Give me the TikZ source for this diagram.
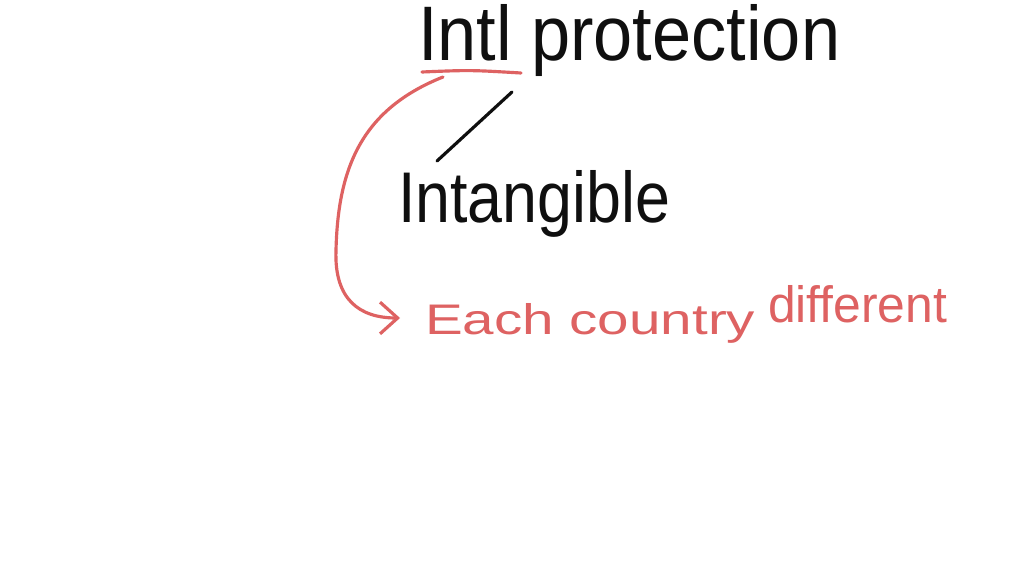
\documentclass[tikz,border=0pt]{standalone}
\usepackage{fontspec}
\setmainfont{Liberation Sans}
\usetikzlibrary{arrows.meta}
\definecolor{pen}{RGB}{15,15,15}
\definecolor{redpen}{RGB}{222,98,98}
\tikzset{
  txt/.style={anchor=base west,inner sep=0pt,outer sep=0pt},
  stroke/.style={line width=0.9pt,line cap=round,line join=round},
}
\begin{document}
\begin{tikzpicture}[x=0.01cm,y=-0.01cm]
\fill[white] (0,0) rectangle (1024,576);
\useasboundingbox (0,0) rectangle (1024,576);
% texts
\node[txt,text=pen] (title) at (418,61) {\resizebox{4.22cm}{0.56cm}{Intl protection}};
\node[txt,text=pen] (intang) at (398,222) {\resizebox{2.72cm}{0.52cm}{Intangible}};
\node[txt,text=redpen] (each) at (425,335) {\resizebox{3.3cm}{0.31cm}{Each country}};
\node[txt,text=redpen] (diff) at (768,322) {\resizebox{1.79cm}{0.37cm}{different}};
% connector points
\coordinate (ul1) at (422,72);
\coordinate (ul2) at (521,73);
\coordinate (b1) at (512,92);
\coordinate (b2) at (437,161);
\coordinate (r1) at (443,77);
\coordinate (r2) at (400,318);
% underline of Intl
\draw[stroke,redpen] (ul1) .. controls (470,70) .. (ul2);
% black connector to Intangible
\draw[stroke,pen] (b1) -- (b2);
% red curved arrow to Each country
\draw[stroke,redpen,-{Straight Barb[length=5pt,width=9pt]}]
  (r1) .. controls (360,110) and (338,170) .. (336,250)
  .. controls (334,300) and (360,318) .. (r2);
\end{tikzpicture}
\end{document}
